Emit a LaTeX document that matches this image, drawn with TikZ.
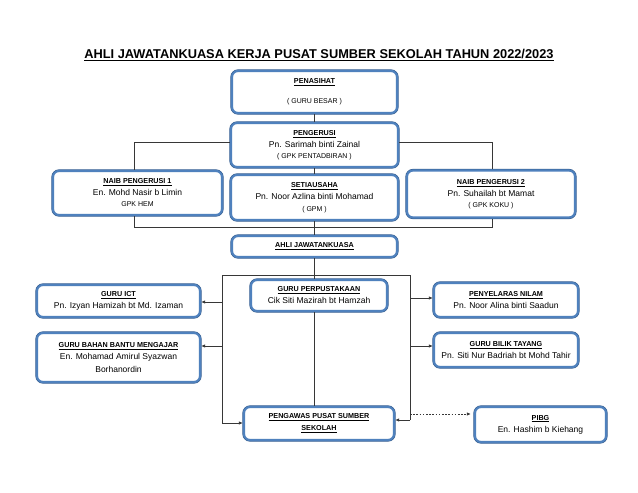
\documentclass[tikz,border=0pt]{standalone}
\usepackage{fontspec}
\setmainfont{Liberation Sans}
\usetikzlibrary{arrows.meta}
\definecolor{boxblue}{RGB}{79,129,189}
\definecolor{boxdark}{RGB}{50,90,140}
\definecolor{linec}{RGB}{55,55,55}
\newcommand\hd[1]{{\fontsize{7.2}{10}\selectfont\bfseries\underline{#1}}}
\newcommand\bd[1]{{\fontsize{8.5}{10}\selectfont #1}}
\newcommand\sm[1]{{\fontsize{7}{9}\selectfont #1}}
\begin{document}
\begin{tikzpicture}[x=1pt,y=-1pt,
  box/.style={draw=boxblue, line width=2.2pt, rounded corners=6pt, fill=white,
    align=center, inner sep=0pt, preaction={draw=boxdark, line width=3.2pt}},
  conn/.style={draw=linec, line width=0.8pt},
  arr/.style={conn, -{Latex[length=4pt,width=3.4pt]}},
  dotarr/.style={arr, dash pattern=on 1.6pt off 1.6pt}]
\useasboundingbox[fill=white] (0,0) rectangle (638,493);

\node (title) at (319,55) {\fontsize{12.8}{14}\selectfont\bfseries\underline{AHLI JAWATANKUASA KERJA PUSAT SUMBER SEKOLAH TAHUN 2022/2023}};

\node[box, minimum width=165, minimum height=42] (pen) at (314.5,92)
  {\hd{PENASIHAT}\\[8pt]\sm{( GURU BESAR )}};
\node[box, minimum width=167, minimum height=44] (pgr) at (314.5,145)
  {\hd{PENGERUSI}\\\bd{Pn. Sarimah binti Zainal}\\[-1pt]\sm{( GPK PENTADBIRAN )}};
\node[box, minimum width=169, minimum height=44] (naib1) at (137.5,193)
  {\hd{NAIB PENGERUSI 1}\\\bd{En. Mohd Nasir b Limin}\\[-1pt]\sm{GPK HEM}};
\node[box, minimum width=167, minimum height=45] (setia) at (314.5,197.5)
  {\hd{SETIAUSAHA}\\\bd{Pn. Noor Azlina binti Mohamad}\\\sm{( GPM )}};
\node[box, minimum width=168, minimum height=47] (naib2) at (491,194)
  {\hd{NAIB PENGERUSI 2}\\\bd{Pn. Suhailah bt Mamat}\\[-1pt]\sm{( GPK KOKU )}};
\node[box, minimum width=165, minimum height=21] (ahli) at (314.5,246.5)
  {\hd{AHLI JAWATANKUASA}};
\node[box, minimum width=136, minimum height=31] (perp) at (319,295.5)
  {\hd{GURU PERPUSTAKAAN}\\\bd{Cik Siti Mazirah bt Hamzah}};
\node[box, minimum width=163, minimum height=32] (ict) at (118.5,301)
  {\hd{GURU ICT}\\\bd{Pn. Izyan Hamizah bt Md. Izaman}};
\node[box, minimum width=163, minimum height=49] (bahan) at (118.5,357.5)
  {\hd{GURU BAHAN BANTU MENGAJAR}\\\bd{En. Mohamad Amirul Syazwan}\\[1pt]\bd{Borhanordin}};
\node[box, minimum width=144, minimum height=34] (nilam) at (506,300)
  {\hd{PENYELARAS NILAM}\\\bd{Pn. Noor Alina binti Saadun}};
\node[box, minimum width=144, minimum height=34] (tayang) at (506,350)
  {\hd{GURU BILIK TAYANG}\\\bd{Pn. Siti Nur Badriah bt Mohd Tahir}};
\node[box, minimum width=150, minimum height=33] (pengawas) at (319,423.5)
  {\hd{PENGAWAS PUSAT SUMBER}\\[0pt]\hd{SEKOLAH}};
\node[box, minimum width=131, minimum height=35] (pibg) at (540.5,424.5)
  {\hd{PIBG}\\\bd{En. Hashim b Kiehang}};

% junction coordinates
\coordinate (jl) at (134,142);
\coordinate (jr) at (492,142);
\coordinate (bl) at (134,227);
\coordinate (br) at (492,227);
\coordinate (tl) at (222,275);
\coordinate (tr) at (410,275);
\coordinate (lb) at (222,423);
\coordinate (rb) at (410,420);
\coordinate (aict) at (222,302);
\coordinate (abahan) at (222,346);
\coordinate (anilam) at (410,298);
\coordinate (atayang) at (410,346);
\coordinate (apibg) at (410,414);

\draw[conn] (pen) -- (pgr);
\draw[conn] (pgr) -- (setia);
\draw[conn] (pgr.west |- jl) -- (jl) -- (jl |- naib1.north);
\draw[conn] (pgr.east |- jr) -- (jr) -- (jr |- naib2.north);
\draw[conn] (bl |- naib1.south) -- (bl) -- (br) -- (br |- naib2.south);
\draw[conn] (setia) -- (ahli);
\draw[conn] (ahli.south) -- (ahli.south |- perp.north);
\draw[conn] (ahli.south |- perp.south) -- (ahli.south |- pengawas.north);
\draw[conn] (lb) -- (tl) -- (tr) -- (rb);
\draw[arr] (lb) -- (pengawas.west |- lb);
\draw[arr] (rb) -- (pengawas.east |- rb);
\draw[arr] (aict) -- (ict.east |- aict);
\draw[arr] (abahan) -- (bahan.east |- abahan);
\draw[arr] (anilam) -- (nilam.west |- anilam);
\draw[arr] (atayang) -- (tayang.west |- atayang);
\draw[dotarr, shorten >=3pt] (apibg) -- (pibg.west |- apibg);
\end{tikzpicture}
\end{document}
